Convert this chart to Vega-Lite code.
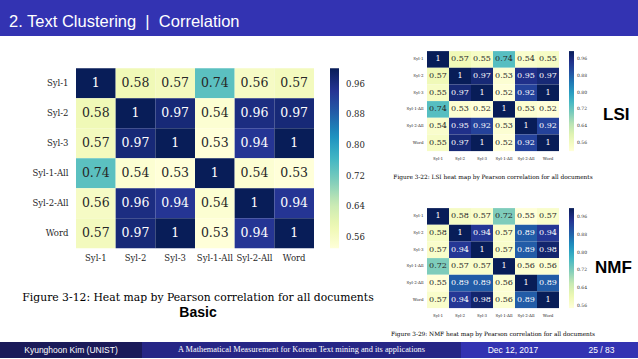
{
  "$schema": "https://vega.github.io/schema/vega-lite/v6.json",
  "padding": 0,
  "background": "white",
  "spacing": 5,
  "config": {
    "view": {"stroke": null},
    "axis": {"domain": false, "ticks": false, "grid": false, "labelFont": "DejaVu Serif", "labelColor": "#262626", "title": null},
    "legend": {"gradientStrokeWidth": 0, "labelFont": "DejaVu Serif", "labelColor": "#262626"},
    "title": {"fontWeight": "normal", "color": "black"}
  },
  "datasets": {
    "basic": [
      {"row":"Syl-1","col":"Syl-1","r":1},{"row":"Syl-1","col":"Syl-2","r":0.58},{"row":"Syl-1","col":"Syl-3","r":0.57},{"row":"Syl-1","col":"Syl-1-All","r":0.74},{"row":"Syl-1","col":"Syl-2-All","r":0.56},{"row":"Syl-1","col":"Word","r":0.57},
      {"row":"Syl-2","col":"Syl-1","r":0.58},{"row":"Syl-2","col":"Syl-2","r":1},{"row":"Syl-2","col":"Syl-3","r":0.97},{"row":"Syl-2","col":"Syl-1-All","r":0.54},{"row":"Syl-2","col":"Syl-2-All","r":0.96},{"row":"Syl-2","col":"Word","r":0.97},
      {"row":"Syl-3","col":"Syl-1","r":0.57},{"row":"Syl-3","col":"Syl-2","r":0.97},{"row":"Syl-3","col":"Syl-3","r":1},{"row":"Syl-3","col":"Syl-1-All","r":0.53},{"row":"Syl-3","col":"Syl-2-All","r":0.94},{"row":"Syl-3","col":"Word","r":1},
      {"row":"Syl-1-All","col":"Syl-1","r":0.74},{"row":"Syl-1-All","col":"Syl-2","r":0.54},{"row":"Syl-1-All","col":"Syl-3","r":0.53},{"row":"Syl-1-All","col":"Syl-1-All","r":1},{"row":"Syl-1-All","col":"Syl-2-All","r":0.54},{"row":"Syl-1-All","col":"Word","r":0.53},
      {"row":"Syl-2-All","col":"Syl-1","r":0.56},{"row":"Syl-2-All","col":"Syl-2","r":0.96},{"row":"Syl-2-All","col":"Syl-3","r":0.94},{"row":"Syl-2-All","col":"Syl-1-All","r":0.54},{"row":"Syl-2-All","col":"Syl-2-All","r":1},{"row":"Syl-2-All","col":"Word","r":0.94},
      {"row":"Word","col":"Syl-1","r":0.57},{"row":"Word","col":"Syl-2","r":0.97},{"row":"Word","col":"Syl-3","r":1},{"row":"Word","col":"Syl-1-All","r":0.53},{"row":"Word","col":"Syl-2-All","r":0.94},{"row":"Word","col":"Word","r":1}
    ],
    "lsi": [
      {"row":"Syl-1","col":"Syl-1","r":1},{"row":"Syl-1","col":"Syl-2","r":0.57},{"row":"Syl-1","col":"Syl-3","r":0.55},{"row":"Syl-1","col":"Syl-1-All","r":0.74},{"row":"Syl-1","col":"Syl-2-All","r":0.54},{"row":"Syl-1","col":"Word","r":0.55},
      {"row":"Syl-2","col":"Syl-1","r":0.57},{"row":"Syl-2","col":"Syl-2","r":1},{"row":"Syl-2","col":"Syl-3","r":0.97},{"row":"Syl-2","col":"Syl-1-All","r":0.53},{"row":"Syl-2","col":"Syl-2-All","r":0.95},{"row":"Syl-2","col":"Word","r":0.97},
      {"row":"Syl-3","col":"Syl-1","r":0.55},{"row":"Syl-3","col":"Syl-2","r":0.97},{"row":"Syl-3","col":"Syl-3","r":1},{"row":"Syl-3","col":"Syl-1-All","r":0.52},{"row":"Syl-3","col":"Syl-2-All","r":0.92},{"row":"Syl-3","col":"Word","r":1},
      {"row":"Syl-1-All","col":"Syl-1","r":0.74},{"row":"Syl-1-All","col":"Syl-2","r":0.53},{"row":"Syl-1-All","col":"Syl-3","r":0.52},{"row":"Syl-1-All","col":"Syl-1-All","r":1},{"row":"Syl-1-All","col":"Syl-2-All","r":0.53},{"row":"Syl-1-All","col":"Word","r":0.52},
      {"row":"Syl-2-All","col":"Syl-1","r":0.54},{"row":"Syl-2-All","col":"Syl-2","r":0.95},{"row":"Syl-2-All","col":"Syl-3","r":0.92},{"row":"Syl-2-All","col":"Syl-1-All","r":0.53},{"row":"Syl-2-All","col":"Syl-2-All","r":1},{"row":"Syl-2-All","col":"Word","r":0.92},
      {"row":"Word","col":"Syl-1","r":0.55},{"row":"Word","col":"Syl-2","r":0.97},{"row":"Word","col":"Syl-3","r":1},{"row":"Word","col":"Syl-1-All","r":0.52},{"row":"Word","col":"Syl-2-All","r":0.92},{"row":"Word","col":"Word","r":1}
    ],
    "nmf": [
      {"row":"Syl-1","col":"Syl-1","r":1},{"row":"Syl-1","col":"Syl-2","r":0.58},{"row":"Syl-1","col":"Syl-3","r":0.57},{"row":"Syl-1","col":"Syl-1-All","r":0.72},{"row":"Syl-1","col":"Syl-2-All","r":0.55},{"row":"Syl-1","col":"Word","r":0.57},
      {"row":"Syl-2","col":"Syl-1","r":0.58},{"row":"Syl-2","col":"Syl-2","r":1},{"row":"Syl-2","col":"Syl-3","r":0.94},{"row":"Syl-2","col":"Syl-1-All","r":0.57},{"row":"Syl-2","col":"Syl-2-All","r":0.89},{"row":"Syl-2","col":"Word","r":0.94},
      {"row":"Syl-3","col":"Syl-1","r":0.57},{"row":"Syl-3","col":"Syl-2","r":0.94},{"row":"Syl-3","col":"Syl-3","r":1},{"row":"Syl-3","col":"Syl-1-All","r":0.57},{"row":"Syl-3","col":"Syl-2-All","r":0.89},{"row":"Syl-3","col":"Word","r":0.98},
      {"row":"Syl-1-All","col":"Syl-1","r":0.72},{"row":"Syl-1-All","col":"Syl-2","r":0.57},{"row":"Syl-1-All","col":"Syl-3","r":0.57},{"row":"Syl-1-All","col":"Syl-1-All","r":1},{"row":"Syl-1-All","col":"Syl-2-All","r":0.56},{"row":"Syl-1-All","col":"Word","r":0.56},
      {"row":"Syl-2-All","col":"Syl-1","r":0.55},{"row":"Syl-2-All","col":"Syl-2","r":0.89},{"row":"Syl-2-All","col":"Syl-3","r":0.89},{"row":"Syl-2-All","col":"Syl-1-All","r":0.56},{"row":"Syl-2-All","col":"Syl-2-All","r":1},{"row":"Syl-2-All","col":"Word","r":0.89},
      {"row":"Word","col":"Syl-1","r":0.57},{"row":"Word","col":"Syl-2","r":0.94},{"row":"Word","col":"Syl-3","r":0.98},{"row":"Word","col":"Syl-1-All","r":0.56},{"row":"Word","col":"Syl-2-All","r":0.89},{"row":"Word","col":"Word","r":1}
    ]
  },
  "vconcat": [
    {
      "spacing": 15,
      "vconcat": [
        {
          "width": 638,
          "height": 36,
          "data": {"values": [{"part": "banner"}]},
          "title": {"text": "2. Text Clustering \u00a0|\u00a0 Correlation", "orient": "top", "anchor": "start", "frame": "group", "offset": -30, "dx": 9, "font": "Liberation Sans", "fontSize": 16.5, "fontWeight": "normal", "color": "white"},
          "mark": {"type": "rect", "color": "#3333B2"},
          "encoding": {}
        },
        {
          "hconcat": [
            {
              "width": 6,
              "height": 1,
              "data": {"values": []},
              "mark": {"type": "rect"},
              "encoding": {}
            },
            {
              "width": 238,
              "height": 180,
              "data": {"name": "basic"},
              "title": {"text": "Figure 3-12: Heat map by Pearson correlation for all documents", "subtitle": "Basic", "orient": "bottom", "anchor": "middle", "offset": 30, "dx": 3, "font": "DejaVu Serif", "fontSize": 10.8, "fontWeight": "normal", "color": "black", "subtitleFont": "Liberation Sans", "subtitleFontSize": 14, "subtitleFontWeight": "bold", "subtitleColor": "black", "subtitlePadding": 3},
              "encoding": {
                "x": {"field": "col", "type": "nominal", "sort": ["Syl-1","Syl-2","Syl-3","Syl-1-All","Syl-2-All","Word"], "scale": {"paddingInner": 0, "paddingOuter": 0}, "axis": {"labelFontSize": 8.5, "labelPadding": 5, "labelAngle": 0}, "title": null},
                "y": {"field": "row", "type": "nominal", "sort": ["Syl-1","Syl-2","Syl-3","Syl-1-All","Syl-2-All","Word"], "scale": {"paddingInner": 0, "paddingOuter": 0}, "axis": {"labelFontSize": 8.5, "labelPadding": 8}, "title": null}
              },
              "layer": [
                {"mark": {"type": "rect"}, "encoding": {"color": {"field": "r", "type": "quantitative", "scale": {"range": ["#ffffd9","#edf8b1","#c7e9b4","#7fcdbb","#41b6c4","#1d91c0","#225ea8","#253494","#081d58"], "interpolate": "rgb", "zero": false, "nice": false}, "legend": {"title": null, "orient": "right", "offset": 16, "gradientLength": 180, "gradientThickness": 9, "values": [0.56, 0.64, 0.72, 0.8, 0.88, 0.96], "format": ".2f", "labelFontSize": 8.5, "labelOffset": 7}}}},
                {"mark": {"type": "text", "font": "DejaVu Serif", "fontSize": 12.5}, "encoding": {"text": {"field": "r", "type": "quantitative", "format": ".2~f"}, "color": {"condition": {"test": "datum.r > 0.8", "value": "white"}, "value": "#262626"}}}
              ]
            },
            {
              "spacing": 28,
              "vconcat": [
                {
                  "width": 132,
                  "height": 100,
                  "data": {"name": "lsi"},
                  "title": {"text": "Figure 3-22: LSI heat map by Pearson correlation for all documents", "orient": "bottom", "anchor": "middle", "frame": "group", "offset": 14, "font": "DejaVu Serif", "fontSize": 5.8, "fontWeight": "normal", "color": "black"},
                  "encoding": {
                    "x": {"field": "col", "type": "nominal", "sort": ["Syl-1","Syl-2","Syl-3","Syl-1-All","Syl-2-All","Word"], "scale": {"paddingInner": 0, "paddingOuter": 0}, "axis": {"labelFontSize": 4, "labelPadding": 5, "labelAngle": 0}, "title": null},
                    "y": {"field": "row", "type": "nominal", "sort": ["Syl-1","Syl-2","Syl-3","Syl-1-All","Syl-2-All","Word"], "scale": {"paddingInner": 0, "paddingOuter": 0}, "axis": {"labelFontSize": 4, "labelPadding": 4}, "title": null}
                  },
                  "layer": [
                    {"mark": {"type": "rect"}, "encoding": {"color": {"field": "r", "type": "quantitative", "scale": {"range": ["#ffffd9","#edf8b1","#c7e9b4","#7fcdbb","#41b6c4","#1d91c0","#225ea8","#253494","#081d58"], "interpolate": "rgb", "zero": false, "nice": false}, "legend": {"title": "LSI", "titleOrient": "right", "titleFont": "Liberation Sans", "titleFontSize": 17, "titleFontWeight": "bold", "titleColor": "black", "titlePadding": 16, "orient": "right", "offset": 10, "gradientLength": 100, "gradientThickness": 5, "values": [0.56, 0.64, 0.72, 0.8, 0.88, 0.96], "format": ".2f", "labelFontSize": 4.5, "labelOffset": 3, "encode": {"title": {"update": {"angle": {"value": 0}, "align": {"value": "left"}, "baseline": {"value": "middle"}, "dy": {"value": 14}}}}}}}},
                    {"mark": {"type": "text", "font": "DejaVu Serif", "fontSize": 8}, "encoding": {"text": {"field": "r", "type": "quantitative", "format": ".2~f"}, "color": {"condition": {"test": "datum.r > 0.8", "value": "white"}, "value": "#262626"}}}
                  ]
                },
                {
                  "width": 132,
                  "height": 100,
                  "data": {"name": "nmf"},
                  "title": {"text": "Figure 3-29: NMF heat map by Pearson correlation for all documents", "orient": "bottom", "anchor": "middle", "frame": "group", "offset": 14, "font": "DejaVu Serif", "fontSize": 5.8, "fontWeight": "normal", "color": "black"},
                  "encoding": {
                    "x": {"field": "col", "type": "nominal", "sort": ["Syl-1","Syl-2","Syl-3","Syl-1-All","Syl-2-All","Word"], "scale": {"paddingInner": 0, "paddingOuter": 0}, "axis": {"labelFontSize": 4, "labelPadding": 5, "labelAngle": 0}, "title": null},
                    "y": {"field": "row", "type": "nominal", "sort": ["Syl-1","Syl-2","Syl-3","Syl-1-All","Syl-2-All","Word"], "scale": {"paddingInner": 0, "paddingOuter": 0}, "axis": {"labelFontSize": 4, "labelPadding": 4}, "title": null}
                  },
                  "layer": [
                    {"mark": {"type": "rect"}, "encoding": {"color": {"field": "r", "type": "quantitative", "scale": {"range": ["#ffffd9","#edf8b1","#c7e9b4","#7fcdbb","#41b6c4","#1d91c0","#225ea8","#253494","#081d58"], "interpolate": "rgb", "zero": false, "nice": false}, "legend": {"title": "NMF", "titleOrient": "right", "titleFont": "Liberation Sans", "titleFontSize": 17, "titleFontWeight": "bold", "titleColor": "black", "titlePadding": 8, "orient": "right", "offset": 10, "gradientLength": 100, "gradientThickness": 5, "values": [0.56, 0.64, 0.72, 0.8, 0.88, 0.96], "format": ".2f", "labelFontSize": 4.5, "labelOffset": 3, "encode": {"title": {"update": {"angle": {"value": 0}, "align": {"value": "left"}, "baseline": {"value": "middle"}, "dy": {"value": 10}}}}}}}},
                    {"mark": {"type": "text", "font": "DejaVu Serif", "fontSize": 8}, "encoding": {"text": {"field": "r", "type": "quantitative", "format": ".2~f"}, "color": {"condition": {"test": "datum.r > 0.8", "value": "white"}, "value": "#262626"}}}
                  ]
                }
              ],
              "resolve": {"scale": {"color": "independent"}, "legend": {"color": "independent"}}
            }
          ],
          "spacing": 16,
          "center": true,
          "resolve": {"scale": {"color": "independent"}, "legend": {"color": "independent"}}
        }
      ]
    },
    {
      "spacing": 0,
      "hconcat": [
        {"width": 142, "height": 16, "data": {"values": [{"label": "Kyunghoon Kim (UNIST)"}]}, "layer": [{"mark": {"type": "rect", "color": "#1A1A59"}, "encoding": {}}, {"mark": {"type": "text", "color": "white", "font": "Liberation Sans", "fontSize": 8.5}, "encoding": {"text": {"field": "label"}}}]},
        {"width": 319, "height": 16, "data": {"values": [{"label": "A Mathematical Measurement for Korean Text mining and its applications"}]}, "layer": [{"mark": {"type": "rect", "color": "#262686"}, "encoding": {}}, {"mark": {"type": "text", "color": "white", "font": "Liberation Serif", "fontSize": 8.3}, "encoding": {"text": {"field": "label"}}}]},
        {"width": 104, "height": 16, "data": {"values": [{"label": "Dec 12, 2017"}]}, "layer": [{"mark": {"type": "rect", "color": "#3333B2"}, "encoding": {}}, {"mark": {"type": "text", "color": "white", "font": "Liberation Sans", "fontSize": 8.5}, "encoding": {"text": {"field": "label"}}}]},
        {"width": 73, "height": 16, "data": {"values": [{"label": "25 / 83"}]}, "layer": [{"mark": {"type": "rect", "color": "#3333B2"}, "encoding": {}}, {"mark": {"type": "text", "color": "white", "font": "Liberation Sans", "fontSize": 8.5}, "encoding": {"text": {"field": "label"}}}]}
      ]
    }
  ]
}
